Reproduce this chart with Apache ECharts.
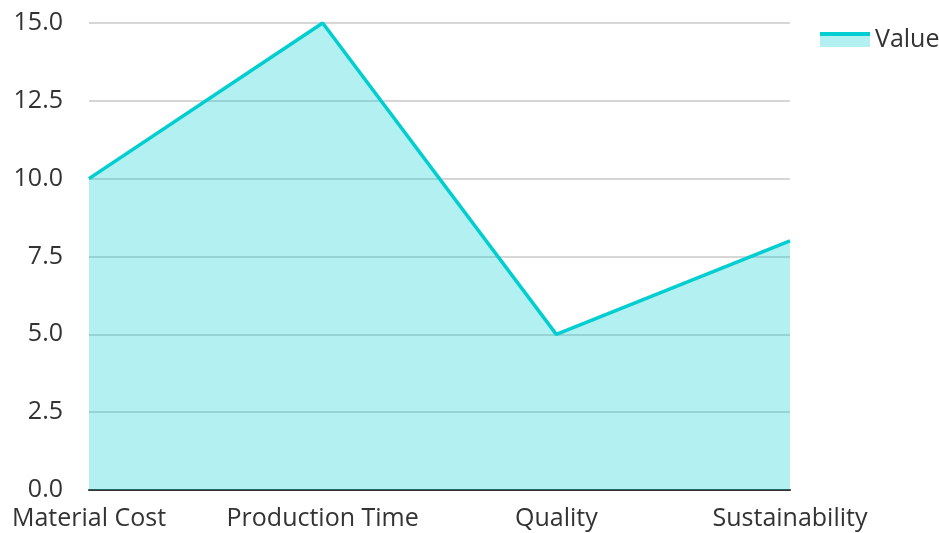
<!DOCTYPE html>
<html>
<head>
<meta charset="utf-8">
<script src="https://cdn.jsdelivr.net/npm/echarts@6/dist/echarts.min.js"></script>
<style>
  html, body { margin: 0; padding: 0; background: #fff; }
  #chart { width: 939px; height: 533px; }
</style>
</head>
<body>
<div id="chart"></div>
<script>
var categories = ['Material Cost', 'Production Time', 'Quality', 'Sustainability'];
var values = [10, 15, 5, 8];
var seriesName = 'Value';

var lineColor = '#00CED1';
var areaColor = '#b2f0f1';

var myChart = echarts.init(document.getElementById('chart'));
var option = {
    animation: false,
    textStyle: {
        fontFamily: 'Open Sans'
    },
    grid: {
        left: 89,
        right: 149,
        top: 23,
        bottom: 43
    },
    legend: {
        top: 22,
        left: 815,
        itemWidth: 50,
        itemHeight: 15,
        itemGap: 10,
        icon: 'rect',
        itemStyle: {
            // line on top, area underneath
            color: {
                type: 'linear', x: 0, y: 0, x2: 0, y2: 1,
                colorStops: [
                    { offset: 0, color: lineColor },
                    { offset: 0.27, color: lineColor },
                    { offset: 0.27, color: areaColor },
                    { offset: 1, color: areaColor }
                ]
            },
            borderWidth: 0
        },
        lineStyle: { opacity: 0 },
        textStyle: {
            fontSize: 25,
            color: '#333333'
        },
        data: [seriesName]
    },
    xAxis: {
        type: 'category',
        boundaryGap: false,
        data: categories,
        axisTick: { show: false },
        axisLine: {
            show: true,
            lineStyle: { color: '#333333', width: 2 }
        },
        axisLabel: {
            fontSize: 25,
            color: '#333333',
            margin: 16,
            interval: 0
        }
    },
    yAxis: {
        type: 'value',
        min: 0,
        max: 15,
        interval: 2.5,
        axisLine: { show: false },
        axisTick: { show: false },
        splitLine: {
            lineStyle: { color: '#c8c8c8', width: 1.5 }
        },
        axisLabel: {
            fontSize: 25,
            color: '#333333',
            margin: 26,
            formatter: function (v) { return v.toFixed(1); }
        }
    },
    series: [
        {
            name: seriesName,
            type: 'line',
            data: values,
            symbol: 'none',
            lineStyle: { color: lineColor, width: 3.5 },
            itemStyle: { color: lineColor },
            areaStyle: { color: lineColor, opacity: 0.3 }
        }
    ]
};
myChart.setOption(option);
</script>
</body>
</html>
